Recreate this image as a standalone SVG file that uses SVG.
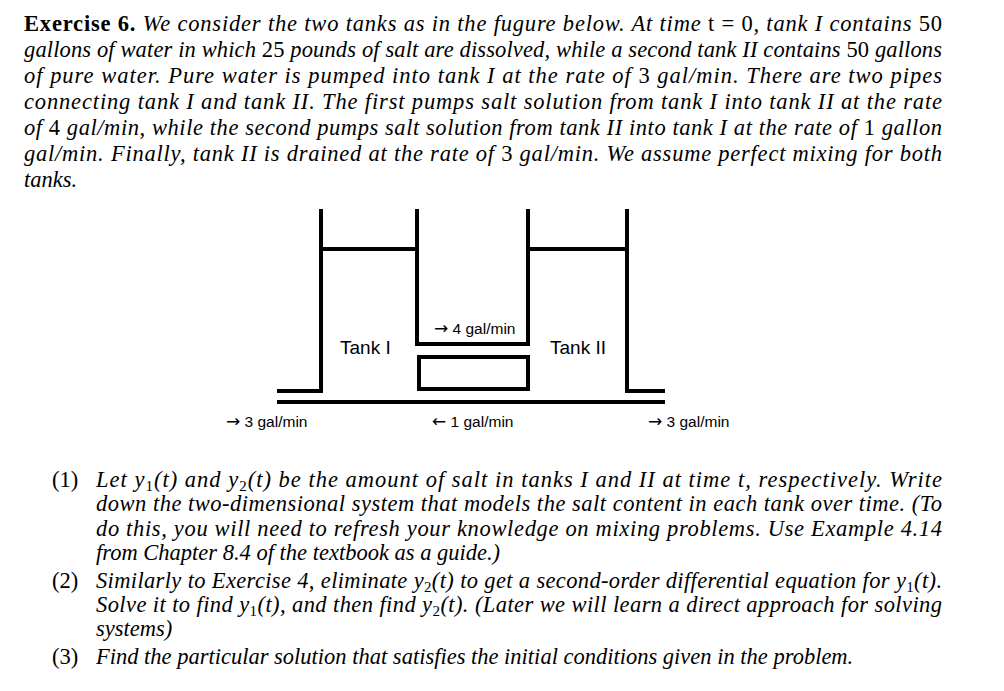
<svg xmlns="http://www.w3.org/2000/svg" width="1004" height="691" viewBox="0 0 1004 691">
<style>
.t{font-family:"Liberation Serif",serif;font-size:22.5px;font-style:italic;fill:#000}
.u{font-style:normal}
.b{font-style:normal;font-weight:bold}
.l{font-family:"Liberation Sans",Arial,sans-serif;font-size:15.5px;fill:#000}
.a{font-family:"DejaVu Sans",sans-serif;font-size:17px}
.k{font-family:"Liberation Sans",Arial,sans-serif;font-size:19px;fill:#000}
.w{stroke:#000;stroke-width:4;fill:none;stroke-linecap:butt;stroke-linejoin:miter}
.s{font-size:15px;font-style:normal}
</style>
<rect width="1004" height="691" fill="#fff"/>
<g id="problem">
<text class="t" x="24" y="31" textLength="918" lengthAdjust="spacing"><tspan class="b">Exercise 6.</tspan> We consider the two tanks as in the fugure below. At time <tspan class="u">t = 0</tspan>, tank I contains <tspan class="u">50</tspan></text>
<text class="t" x="24" y="57" textLength="918" lengthAdjust="spacing">gallons of water in which <tspan class="u">25</tspan> pounds of salt are dissolved, while a second tank II contains <tspan class="u">50</tspan> gallons</text>
<text class="t" x="24" y="83" textLength="918" lengthAdjust="spacing">of pure water.  Pure water is pumped into tank I at the rate of <tspan class="u">3</tspan> gal/min.  There are two pipes</text>
<text class="t" x="24" y="109" textLength="918" lengthAdjust="spacing">connecting tank I and tank II. The first pumps salt solution from tank I into tank II at the rate</text>
<text class="t" x="24" y="135" textLength="918" lengthAdjust="spacing">of <tspan class="u">4</tspan> gal/min, while the second pumps salt solution from tank II into tank I at the rate of <tspan class="u">1</tspan> gallon</text>
<text class="t" x="24" y="161" textLength="918" lengthAdjust="spacing">gal/min.  Finally, tank II is drained at the rate of <tspan class="u">3</tspan> gal/min.  We assume perfect mixing for both</text>
<text class="t" x="24" y="187">tanks.</text>
</g>
<g id="tanks">
<polyline class="w" points="277,391 321,391 321,209"/>
<line class="w" x1="321" y1="249" x2="417" y2="249"/>
<polyline class="w" points="417,209 417,344 528,344 528,209"/>
<line class="w" x1="528" y1="249" x2="627" y2="249"/>
<polyline class="w" points="627,209 627,391 665,391"/>
<rect class="w" x="419" y="357" width="109" height="32"/>
<line class="w" x1="277" y1="402" x2="665" y2="402"/>
<text class="k" x="340" y="354">Tank I</text>
<text class="k" x="550" y="354">Tank II</text>
</g>
<g id="labels">
<text class="l" x="434" y="334"><tspan class="a">→</tspan> 4 gal/min</text>
<text class="l" x="226" y="427"><tspan class="a">→</tspan> 3 gal/min</text>
<text class="l" x="432" y="427"><tspan class="a">←</tspan> 1 gal/min</text>
<text class="l" x="648" y="427"><tspan class="a">→</tspan> 3 gal/min</text>
</g>
<g id="questions">
<text class="t" x="52" y="487"><tspan class="u">(1)</tspan></text>
<text class="t" x="96" y="487" textLength="846" lengthAdjust="spacing">Let y<tspan class="s" dy="4">1</tspan><tspan dy="-4">(t) and y</tspan><tspan class="s" dy="4">2</tspan><tspan dy="-4">(t) be the amount of salt in tanks I and II at time t, respectively.  Write</tspan></text>
<text class="t" x="96" y="511" textLength="846" lengthAdjust="spacing">down the two-dimensional system that models the salt content in each tank over time.  (To</text>
<text class="t" x="96" y="536" textLength="846" lengthAdjust="spacing">do this, you will need to refresh your knowledge on mixing problems.  Use Example 4.14</text>
<text class="t" x="96" y="560">from Chapter 8.4 of the textbook as a guide.)</text>
<text class="t" x="52" y="588"><tspan class="u">(2)</tspan></text>
<text class="t" x="96" y="588" textLength="846" lengthAdjust="spacing">Similarly to Exercise 4, eliminate y<tspan class="s" dy="4">2</tspan><tspan dy="-4">(t) to get a second-order differential equation for y</tspan><tspan class="s" dy="4">1</tspan><tspan dy="-4">(t).</tspan></text>
<text class="t" x="96" y="612" textLength="846" lengthAdjust="spacing">Solve it to find y<tspan class="s" dy="4">1</tspan><tspan dy="-4">(t), and then find y</tspan><tspan class="s" dy="4">2</tspan><tspan dy="-4">(t).  (Later we will learn a direct approach for solving</tspan></text>
<text class="t" x="96" y="636">systems)</text>
<text class="t" x="52" y="664"><tspan class="u">(3)</tspan></text>
<text class="t" x="96" y="664">Find the particular solution that satisfies the initial conditions given in the problem.</text>
</g>
</svg>
